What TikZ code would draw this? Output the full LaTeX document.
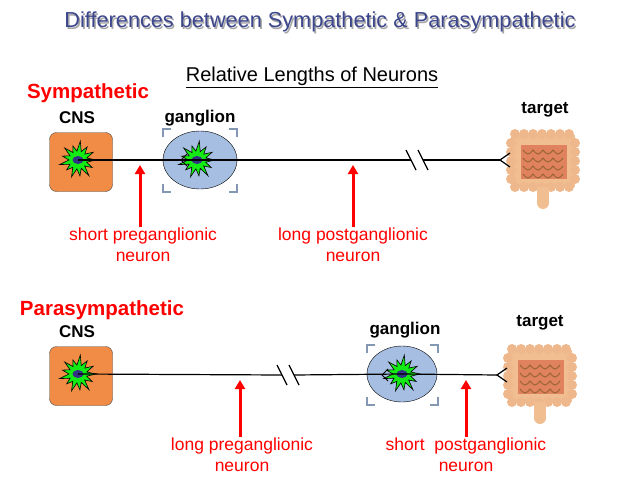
\documentclass[tikz,border=0pt]{standalone}
\usepackage{fontspec}
\setmainfont{Liberation Sans}
\usetikzlibrary{shapes.geometric,arrows.meta}
\definecolor{titleblue}{RGB}{60,70,140}
\definecolor{cnsorange}{RGB}{240,140,70}
\definecolor{ganblue}{RGB}{165,190,225}
\definecolor{gut}{RGB}{225,130,95}
\definecolor{gutlight}{RGB}{240,190,145}
\definecolor{cellgreen}{RGB}{20,235,20}
\tikzset{
  cns/.style={draw=black!70, fill=cnsorange, rounded corners=7pt, minimum width=63pt, minimum height=59pt},
  nucleus/.style={ellipse, fill=blue!40!black!80, minimum width=11pt, minimum height=8pt, inner sep=0pt},
  gang/.style={ellipse, draw=black, fill=ganblue},
  head/.style={font=\fontsize{17}{20}\selectfont\bfseries},
  lab/.style={font=\fontsize{17.5}{21}\selectfont, text=red, align=center},
  redarrow/.style={red, line width=3pt, -{Triangle[length=9pt,width=10pt]}},
  fiber/.style={line width=1.2pt},
  gutpath/.style={draw=brown!80!black, line width=1pt}
}
\newcommand{\cellstar}[2]{%
  \draw[fill=cellgreen, line width=0.6pt, shift={(#1,#2)}]
    (0:18) -- (14:9) -- (28:16) -- (42:9) -- (55:19) -- (69:9) -- (83:16) -- (97:9)
    -- (111:18) -- (125:9) -- (139:15) -- (152:9) -- (166:19) -- (180:9) -- (194:16)
    -- (208:9) -- (222:18) -- (236:9) -- (250:15) -- (263:9) -- (277:19) -- (291:9)
    -- (305:16) -- (319:9) -- (333:17) -- (347:9) -- cycle;}
\newcommand{\gutpic}[2]{%
  \begin{scope}[shift={(#1,#2)}]
    \fill[gutlight] (-32,-30) rectangle (32,22);
    \foreach \a in {-28,-19,...,28} {\fill[gutlight!90!gut] (\a,-31) circle (5pt); \fill[gutlight!90!gut] (\a,22) circle (5pt);}
    \foreach \b in {-22,-13,...,20} {\fill[gutlight!90!gut] (-32,\b) circle (5pt); \fill[gutlight!90!gut] (32,\b) circle (5pt);}
    \fill[gut] (-22,-20) rectangle (24,14);
    \foreach \r in {-15,-7,1,9} {
      \draw[gutpath] (-20,\r) sin (-15,\r+4) cos (-10,\r) sin (-5,\r+4) cos (0,\r) sin (5,\r+4) cos (10,\r) sin (15,\r+4) cos (20,\r);}
    \fill[gutlight] (-6,22) rectangle (6,38);
    \fill[gutlight] (0,38) circle (6pt);
  \end{scope}}
\newcommand{\brackets}[4]{%
  \draw[ganblue!80!black, line width=2pt] (#1,#2+8) |- (#1+8,#2) (#3-8,#2) -| (#3,#2+8) (#3,#4-8) |- (#3-8,#4) (#1+8,#4) -| (#1,#4-8);}
\begin{document}
\begin{tikzpicture}[x=1pt,y=-1pt]
\useasboundingbox (0,0) rectangle (638,479);
% title
\node (titleS) at (321.5,23.5) {\fontsize{21.7}{25}\selectfont\color{black!35}Differences between Sympathetic \& Parasympathetic};
\node (title) at (320,22) {\fontsize{21.7}{25}\selectfont\color{titleblue}Differences between Sympathetic \& Parasympathetic};
\node (sub) at (312,77) {\fontsize{20}{23}\selectfont\underline{Relative Lengths of Neurons}};

% ---------- sympathetic ----------
\node (symp) at (88,93) [head, text=red] {\fontsize{20.5}{24}\selectfont Sympathetic};
\node (cnsA) at (77,118) [head] {CNS};
\node (gA) at (200,118) [head] {ganglion};
\node (tA) at (545,110) [head] {target};
\node (boxA) at (81,162) [cns] {};
\brackets{163}{129}{237}{192}
\node (ellA) at (200,160) [gang, minimum width=74pt, minimum height=58pt] {};
\cellstar{78}{160}
\node (c1) at (78,160) [nucleus] {};
\cellstar{197}{160}
\node (c2) at (197,160) [nucleus] {};
\gutpic{543}{165}
\coordinate (brkA) at (417,160);
\coordinate (endA) at (500,160);
\draw[fiber] (c1.center) -- (c2.center);
\draw[fiber] (c2.center) -- ([xshift=-6pt]brkA);
\draw[fiber] ([xshift=6pt]brkA) -- (endA);
\draw[fiber] ([xshift=-11pt,yshift=10pt]brkA) -- ([xshift=-1pt,yshift=-10pt]brkA);
\draw[fiber] ([xshift=1pt,yshift=10pt]brkA) -- ([xshift=11pt,yshift=-10pt]brkA);
\draw[fiber] (endA)+(10,-7) -- (endA) -- +(10,7);
\draw[line width=1pt] (187,154) -- (181,160) -- (187,166);
\coordinate (a1) at (140,165); \coordinate (a2) at (353,165);
\node (l1) at (143,245) [lab] {short preganglionic\\neuron};
\node (l2) at (353,245) [lab] {long postganglionic\\neuron};
\draw[redarrow] ([yshift=-2pt]l1.north -| a1) -- (a1);
\draw[redarrow] ([yshift=-2pt]l2.north -| a2) -- (a2);

% ---------- parasympathetic ----------
\node (para) at (102,310) [head, text=red] {\fontsize{20.5}{24}\selectfont Parasympathetic};
\node (cnsB) at (77,332) [head] {CNS};
\node (gB) at (405,330) [head] {ganglion};
\node (tB) at (540,323) [head] {target};
\node (boxB) at (81,376) [cns] {};
\brackets{367}{345}{438}{405}
\node (ellB) at (402,374) [gang, minimum width=70pt, minimum height=56pt] {};
\cellstar{78}{374}
\node (c3) at (78,374) [nucleus] {};
\cellstar{402}{374}
\node (c4) at (402,374) [nucleus] {};
\gutpic{540}{380}
\coordinate (brkB) at (288,375);
\coordinate (endB) at (497,375);
\draw[fiber] (c3.center) -- ([xshift=-6pt]brkB);
\draw[fiber] ([xshift=6pt]brkB) -- (c4.center);
\draw[fiber] (c4.center) -- (endB);
\draw[fiber] ([xshift=-11pt,yshift=10pt]brkB) -- ([xshift=-1pt,yshift=-10pt]brkB);
\draw[fiber] ([xshift=1pt,yshift=10pt]brkB) -- ([xshift=11pt,yshift=-10pt]brkB);
\draw[fiber] (endB)+(10,-7) -- (endB) -- +(10,7);
\draw[line width=1pt] (388,369) -- (382,375) -- (388,381);
\coordinate (a3) at (240,380); \coordinate (a4) at (466,380);
\node (l3) at (242,455) [lab] {long preganglionic\\neuron};
\node (l4) at (466,455) [lab] {short\ \ postganglionic\\neuron};
\draw[redarrow] ([yshift=-2pt]l3.north -| a3) -- (a3);
\draw[redarrow] ([yshift=-2pt]l4.north -| a4) -- (a4);
\end{tikzpicture}
\end{document}
